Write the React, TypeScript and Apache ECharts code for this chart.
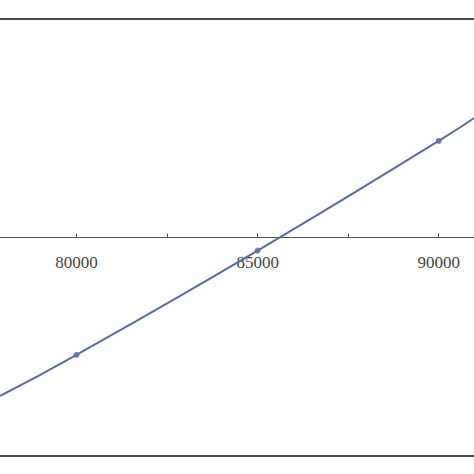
import React, { useEffect, useRef } from "react";
import * as echarts from "echarts";

const lineX = [77890, 80000, 85000, 90000, 90980];
const lineY = [-0.725, -0.537, -0.06, 0.442, 0.547];
const markerX = [80000, 85000, 90000];
const markerY = [-0.537, -0.06, 0.442];
const tickLabels = ["80000", "85000", "90000"];

export default function App() {
  const ref = useRef<HTMLDivElement>(null);
  useEffect(() => {
    if (!ref.current) return;
    const chart = echarts.init(ref.current, undefined, { renderer: "svg" });
    chart.setOption({
      animation: false,
      backgroundColor: "#ffffff",
      grid: {
        left: -14,
        right: -10,
        top: 19,
        bottom: 18,
        containLabel: false,
        outerBoundsMode: "none",
        show: true,
        borderColor: "#4a4a4a",
        borderWidth: 2,
        backgroundColor: "transparent",
      },
      xAxis: {
        type: "value",
        position: "bottom",
        offset: -218.5,
        min: 77500,
        max: 91250,
        interval: 2500,
        axisLine: { onZero: false, lineStyle: { color: "#555", width: 1 } },
        axisTick: { inside: true, length: 4, lineStyle: { color: "#555" } },
        splitLine: { show: false },
        axisLabel: {
          margin: 16,
          color: "#444",
          fontFamily: "'Liberation Serif', 'DejaVu Serif', serif",
          fontSize: 17,
          formatter: (v: number) =>
            tickLabels.includes(String(v)) ? String(v) : "",
        },
      },
      yAxis: {
        type: "value",
        min: -1,
        max: 1,
        show: false,
        splitLine: { show: false },
      },
      series: [
        {
          type: "line",
          data: lineX.map((x, i) => [x, lineY[i]]),
          smooth: true,
          showSymbol: false,
          lineStyle: { color: "#5b6b9c", width: 2 },
        },
        {
          type: "scatter",
          data: markerX.map((x, i) => [x, markerY[i]]),
          symbol: "circle",
          symbolSize: 6,
          itemStyle: { color: "#5b6b9c" },
        },
      ],
    });
    return () => chart.dispose();
  }, []);
  return <div ref={ref} style={{ width: 474, height: 474, position: "absolute", left: 0, top: 0 }} />;
}
